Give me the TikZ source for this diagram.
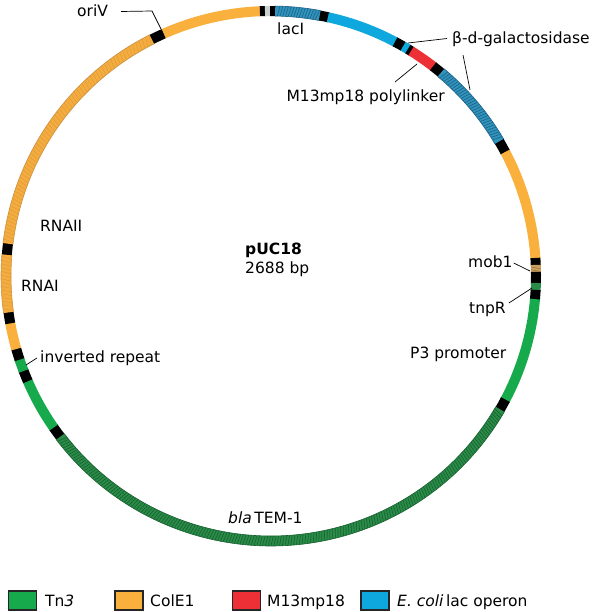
\documentclass[tikz,border=0pt]{standalone}
\usepackage{fontspec}
\setmainfont{DejaVu Sans}
\usetikzlibrary{calc}
\definecolor{tngreen}{RGB}{22,170,76}
\definecolor{blagreen}{RGB}{42,140,72}
\definecolor{blastripe}{RGB}{24,96,48}
\definecolor{coleorange}{RGB}{250,176,60}
\definecolor{hatchorange}{RGB}{244,172,62}
\definecolor{orangestripe}{RGB}{160,115,60}
\definecolor{mred}{RGB}{236,48,54}
\definecolor{lacblue}{RGB}{14,168,222}
\definecolor{hatchblue}{RGB}{48,148,188}
\definecolor{bluestripe}{RGB}{28,96,136}
\definecolor{mobtan}{RGB}{200,160,96}
\definecolor{lightgrey}{RGB}{205,208,210}
\newcommand\seg[3]{\draw[line width=10pt,#3] ($(C)+({90-(#1)}:265pt)$) arc[start angle={90-(#1)}, end angle={90-(#2)-0.2}, radius=265pt];}
\newcommand\hatch[3]{\foreach \ang in {#1} {\draw[#2,line width=#3] ($(C)+({90-\ang}:260.2pt)$) -- ($(C)+({90-\ang-0.5}:269.8pt)$);}}
\newcommand\rim[3]{\draw[#3,line width=0.6pt] ($(C)+({90-(#1)}:260pt)$) arc[start angle={90-(#1)}, end angle={90-(#2)}, radius=260pt];
 \draw[#3,line width=0.6pt] ($(C)+({90-(#1)}:270pt)$) arc[start angle={90-(#1)}, end angle={90-(#2)}, radius=270pt];}
\begin{document}
\begin{tikzpicture}[x=1pt,y=1pt,
  lbl/.style={inner sep=0pt, font=\fontsize{15.5}{18}\selectfont, anchor=base west},
  leader/.style={draw=black, line width=0.7pt},
  legbox/.style={draw=black!85, line width=1.1pt, minimum width=28pt, minimum height=19pt, inner sep=0pt}]
\useasboundingbox (0,0) rectangle (600,-612);
\fill[white] (0,0) rectangle (600,-612);
\coordinate (C) at (271,-276);
% ring segments (angles clockwise from top)
\seg{-24.1}{-2.4}{coleorange}
\seg{-2.4}{-1.3}{black}
\seg{-1.3}{-0.2}{lightgrey}
\seg{-0.2}{0.9}{black}
\seg{0.9}{10.6}{hatchblue}
\seg{10.6}{12.4}{black}
\seg{12.4}{27.9}{lacblue}
\seg{27.9}{29.9}{black}
\seg{29.9}{31.1}{lacblue}
\seg{31.1}{31.9}{black}
\seg{31.9}{37.7}{mred}
\seg{37.7}{39.9}{black}
\seg{39.9}{59.5}{hatchblue}
\seg{59.5}{62.1}{black}
\seg{62.1}{86.1}{coleorange}
\seg{86.1}{87.6}{black}
\seg{87.6}{89.1}{mobtan}
\seg{89.1}{91.5}{black}
\seg{91.5}{93.0}{blagreen}
\seg{93.0}{95.0}{black}
\seg{95.0}{117.8}{tngreen}
\seg{117.8}{120.2}{black}
\seg{120.2}{232.7}{blagreen}
\seg{232.7}{235.1}{black}
\seg{235.1}{246.6}{tngreen}
\seg{246.6}{249.0}{black}
\seg{249.0}{251.6}{tngreen}
\seg{251.6}{254.0}{black}
\seg{254.0}{259.7}{coleorange}
\seg{259.7}{262.1}{black}
\seg{262.1}{274.6}{hatchorange}
\seg{274.6}{277.0}{black}
\seg{277.0}{333.3}{hatchorange}
\seg{333.3}{335.9}{black}
% textures
\hatch{1.4,2.0,...,10.2}{bluestripe}{0.6pt}
\hatch{40.4,41.0,...,59.0}{bluestripe}{0.6pt}
\hatch{88.0,88.6}{orangestripe}{0.6pt}
\hatch{120.7,121.3,...,232.2}{blastripe}{0.6pt}
\hatch{262.5,263.3,...,274.2}{orangestripe!40!hatchorange}{0.3pt}
\hatch{277.4,278.2,...,333.0}{orangestripe!40!hatchorange}{0.3pt}
\rim{0.9}{10.6}{bluestripe}
\rim{39.9}{59.5}{bluestripe}
\rim{120.2}{232.7}{blastripe}
\rim{262.1}{274.6}{orangestripe!50!hatchorange}
\rim{277.0}{333.3}{orangestripe!50!hatchorange}
% labels
\node[lbl] (oriV) at (77,-17) {oriV};
\node[lbl] (lacI) at (277,-35) {lacI};
\node[lbl] (bgal) at (452,-44) {β-d-galactosidase};
\node[lbl, anchor=base east] (m13) at (445,-102) {M13mp18 polylinker};
\node[lbl, font=\fontsize{15.5}{18}\selectfont\bfseries] (pUC) at (245,-254) {pUC18};
\node[lbl] (bp) at (245,-273) {2688 bp};
\node[lbl] (rna2) at (40,-231) {RNAII};
\node[lbl] (rna1) at (21,-291) {RNAI};
\node[lbl] (invrep) at (40,-362) {inverted repeat};
\node[lbl] (mob) at (468,-267) {mob1};
\node[lbl] (tnpR) at (469,-313) {tnpR};
\node[lbl] (P3) at (410,-358) {P3 promoter};
\node[lbl] (bla) at (228,-523) {\textit{bla}\,TEM-1};
% leader end points on the ring
\coordinate (oriVbend) at (152,-11);
\coordinate (oriVpt) at (161,-29);
\coordinate (bgalpt1) at (408,-43);
\coordinate (bgalstart2) at (463,-55);
\coordinate (bgalpt2) at (470,-90);
\coordinate (m13start) at (395,-82);
\coordinate (m13pt) at (417,-64);
\coordinate (invpt) at (26,-365);
\coordinate (mobpt) at (530,-271);
\coordinate (tnppt) at (532,-288);
\draw[leader] ([xshift=13pt,yshift=5.5pt]oriV.base east) -- (oriVbend) -- (oriVpt);
\draw[leader] ([xshift=-5pt,yshift=5.5pt]bgal.base west) -- (bgalpt1);
\draw[leader] (bgalstart2) -- (bgalpt2);
\draw[leader] (m13start) -- (m13pt);
\draw[leader] ([xshift=-3pt,yshift=4pt]invrep.base west) -- (invpt);
\draw[leader] ([xshift=1pt,yshift=4pt]mob.base east) -- (mobpt);
\draw[leader] ([xshift=3pt,yshift=10pt]tnpR.base east) -- (tnppt);
% legend
\node[legbox, fill=tngreen] (kTn) at (22.5,-600.5) {};
\node[lbl] (tTn) at (45,-606) {Tn\textit{3}};
\node[legbox, fill=coleorange] (kCol) at (129,-600.5) {};
\node[lbl] (tCol) at (150,-606) {ColE1};
\node[legbox, fill=mred] (kM13) at (246.5,-600.5) {};
\node[lbl] (tM13) at (267,-606) {M13mp18};
\node[legbox, fill=lacblue] (kLac) at (375,-600.5) {};
\node[lbl] (tLac) at (397,-606) {\textit{E. coli}\,lac operon};
\end{tikzpicture}
\end{document}
